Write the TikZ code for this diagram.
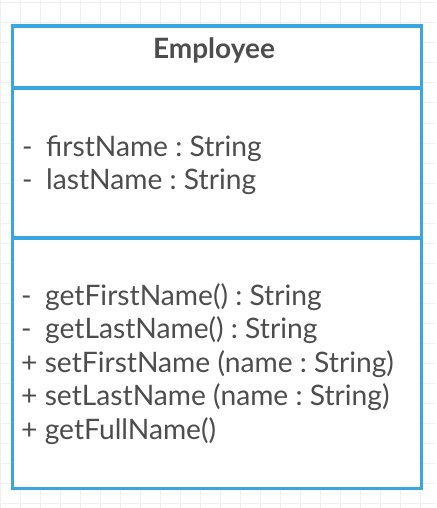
\documentclass[tikz,border=0pt]{standalone}
\usepackage{fontspec}
\setmainfont{Lato}
\frenchspacing
\definecolor{umlblue}{RGB}{58,166,224}
\definecolor{umltext}{RGB}{77,77,77}
\definecolor{gridgray}{RGB}{240,240,240}
\tikzset{
  gridline/.style={gridgray, line width=1pt},
  umlbox/.style={umlblue, line width=3.5pt},
  member/.style={anchor=base west, inner sep=0pt, text=umltext,
    font=\fontsize{28.2}{33}\selectfont},
}
\newcommand{\vis}[1]{\makebox[24pt][l]{#1}}
\begin{document}
\begin{tikzpicture}[x=1pt, y=-1pt]
  \useasboundingbox (0,0) rectangle (436,508);
  \fill[white] (0,0) rectangle (436,508);
  \foreach \gx in {0,20,...,420} \draw[gridline] (\gx,0) -- (\gx,508);
  \foreach \gy in {3,23,...,503} \draw[gridline] (0,\gy) -- (436,\gy);
  % class box
  \coordinate (nw) at (12.5,26);
  \coordinate (se) at (421.5,488.5);
  \fill[white] (nw) rectangle (se);
  \draw[umlbox] (nw) rectangle (se);
  \draw[umlbox] (12.5,88) -- (421.5,88);     % name | attributes
  \draw[umlbox] (12.5,238) -- (421.5,238);   % attributes | methods
  \node[member, anchor=base, font=\fontsize{28}{33}\selectfont\bfseries] (title) at (214,59) {Employee};
  % attributes
  \foreach \t [count=\i] in {{\vis{-}firstName : String}, {\vis{-}lastName : String}}
    \node[member] (a\i) at (22,122.5+33.5*\i) {\t};
  % methods
  \foreach \t [count=\i] in {{\vis{-}getFirstName() : String}, {\vis{-}getLastName() : String},
      {+ setFirstName (name : String)}, {+ setLastName (name : String)}, {+ getFullName()}}
    \node[member] (m\i) at (21,271.5+33.5*\i) {\t};
\end{tikzpicture}
\end{document}
